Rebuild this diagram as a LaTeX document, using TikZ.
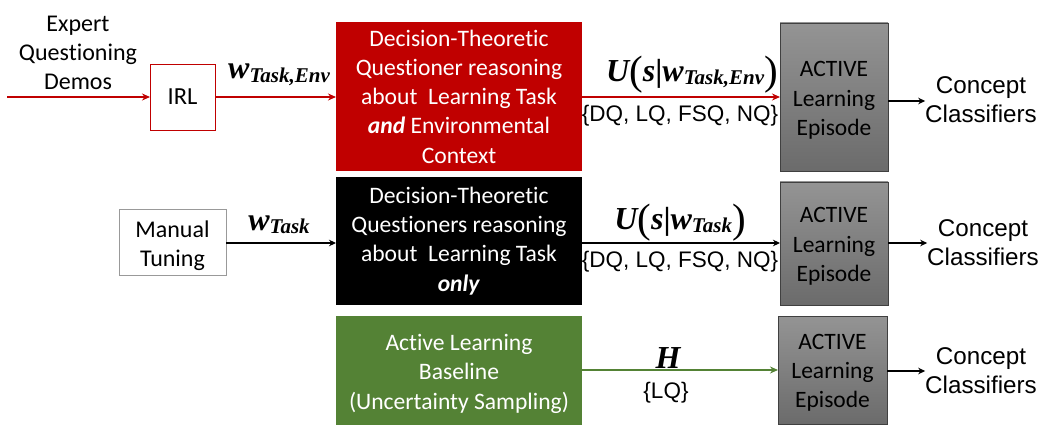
\documentclass[tikz,border=0pt]{standalone}
\usepackage{fontspec}
\setmainfont[Ligatures=NoCommon]{Carlito}
\newfontfamily\arialf{Liberation Sans}
\newfontfamily\mathf[BoldItalicFont=* Bold Italic]{Liberation Serif}
\usetikzlibrary{arrows.meta}
\definecolor{redbox}{RGB}{192,0,0}
\definecolor{greenbox}{RGB}{84,130,53}
\newcommand{\mb}[1]{{\mathf\bfseries\itshape #1}}
\newcommand{\sbs}[1]{\raisebox{-3.5pt}{\fontsize{21}{21}\selectfont\mb{#1}}}
\newcommand{\bigp}[1]{\raisebox{-3.5pt}{\fontsize{41}{41}\selectfont\mathf #1}}
\newcommand{\dn}[1]{\rule{0pt}{#1}}
\tikzset{
  every node/.style={inner sep=0pt,outer sep=0pt,align=center},
  lab/.style={font=\fontsize{24}{29}\selectfont},
  ques/.style={font=\fontsize{23.6}{29.2}\selectfont,text=white,minimum width=246pt,anchor=north west},
  gbox/.style={draw=black!75,line width=.7pt,top color=black!42,bottom color=black!58,font=\fontsize{23.5}{29.2}\selectfont,text=black,minimum width=108pt,anchor=north west},
  cls/.style={font=\arialf\fontsize{24.2}{29}\selectfont},
  arw/.style={-{Stealth[length=8pt,width=7pt]},line width=1.6pt},
  arwb/.style={-{Stealth[length=7pt,width=6.5pt]},line width=1.5pt},
  sets/.style={font=\arialf\fontsize{22.5}{24}\selectfont},
  wlab/.style={font=\fontsize{32}{32}\selectfont}
}
\begin{document}
\begin{tikzpicture}[x=1pt,y=-1pt]
\useasboundingbox (0,0) rectangle (1058,433);
% row 1
\node[lab] (demos) at (78,53) {Expert\\Questioning\\Demos};
\coordinate (start) at (7,97);
\node[draw=redbox,line width=.8pt,minimum width=65pt,minimum height=66pt,font=\fontsize{24.5}{24.5}\selectfont] (irl) at (182.5,97) {IRL};
\node[ques,fill=redbox,minimum height=149pt] (q1) at (336,22) {Decision-Theoretic\\Questioner reasoning\\about\ \ Learning Task\\\textbf{\textit{and}} Environmental\\Context};
\node[gbox,minimum height=148pt] (g1) at (780,23) {\dn{22pt}ACTIVE\\Learning\\Episode};
\node[cls] (c1) at (981,100) {Concept\\Classifiers};
\draw[arw,redbox] (start) -- (irl.west);
\draw[arw,redbox] (irl.east) -- (q1.west |- irl.east);
\draw[arw,redbox] (q1.east |- 0,97) -- (g1.west |- 0,97);
\draw[arwb,black] (g1.east |- 0,101) -- (c1.west |- 0,101);
\node[wlab] (w1) at (279,75) {\mb{w}\sbs{Task,Env}};
\node[wlab] (u1) at (692,75) {\mb{U}\bigp{(}\mb{s}{\mathf\bfseries |}\mb{w}\sbs{Task,Env}\bigp{)}};
\node[sets] (s1) at (680,116) {\{DQ, LQ, FSQ, NQ\}};
% row 2
\node[draw=black!40,line width=.7pt,minimum width=107pt,minimum height=66pt,lab] (man) at (172.5,242) {\dn{24pt}Manual\\Tuning};
\node[ques,fill=black,minimum height=128pt] (q2) at (336,177) {Decision-Theoretic\\Questioners reasoning\\about\ \ Learning Task\\\textbf{\textit{only}}};
\node[gbox,minimum height=123pt] (g2) at (780,182) {\dn{21pt}ACTIVE\\Learning\\Episode};
\node[cls] (c2) at (983,243) {Concept\\Classifiers};
\draw[arwb,black] (man.east |- 0,243) -- (q2.west |- 0,243);
\draw[arwb,black] (q2.east |- 0,243) -- (g2.west |- 0,243);
\draw[arwb,black] (g2.east |- c2.west) -- (c2.west);
\node[wlab] (w2) at (279,225) {\mb{w}\sbs{Task}};
\node[wlab] (u2) at (680,223) {\mb{U}\bigp{(}\mb{s}{\mathf\bfseries |}\mb{w}\sbs{Task}\bigp{)}};
\node[sets] (s2) at (680,262) {\{DQ, LQ, FSQ, NQ\}};
% row 3
\node[ques,fill=greenbox,minimum height=109pt] (q3) at (336,316) {\dn{23pt}Active Learning\\Baseline\\(Uncertainty Sampling)};
\node[gbox,minimum height=108pt,minimum width=109pt] (g3) at (778,316) {\dn{21pt}ACTIVE\\Learning\\Episode};
\node[cls] (c3) at (981,371) {Concept\\Classifiers};
\draw[arw,greenbox] (q3.east |- 0,370) -- (g3.west |- 0,370);
\draw[arwb,black] (g3.east |- c3.west) -- (c3.west);
\node[wlab] (h) at (668,358) {\mb{H}};
\node[sets] (lq) at (666,393) {\{LQ\}};
\end{tikzpicture}
\end{document}
